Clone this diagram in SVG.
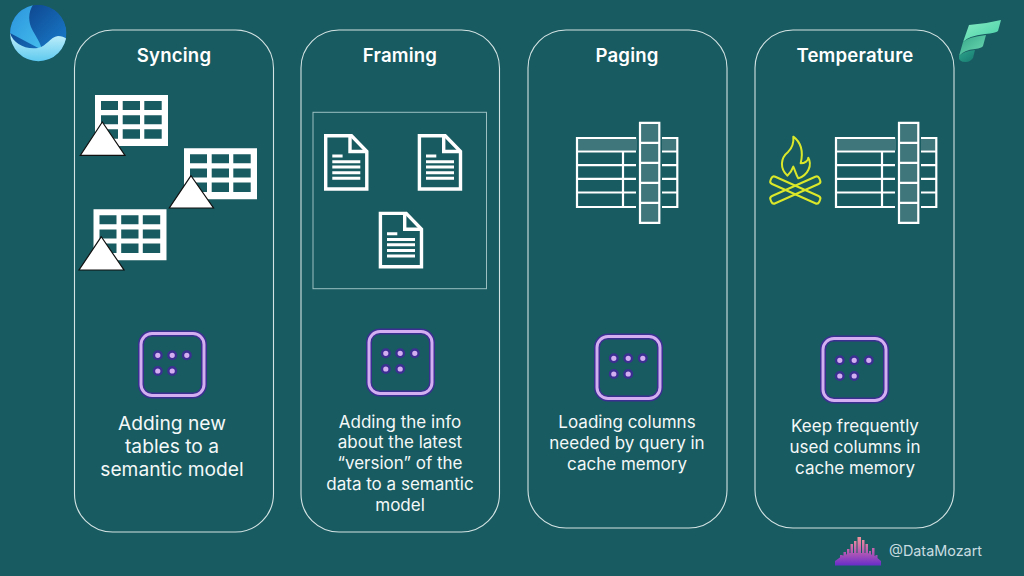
<svg xmlns="http://www.w3.org/2000/svg" width="1024" height="576" viewBox="0 0 1024 576">
<style>
.card{fill:none;stroke:#d3e3e3;stroke-width:1.1}
.title{font:600 18.600px Inter,"Liberation Sans",sans-serif;fill:#fff;text-anchor:middle;letter-spacing:.2px}
.big{font:400 19.200px Inter,"Liberation Sans",sans-serif;fill:#f4f8f8;text-anchor:middle}
.small{font:400 17px Inter,"Liberation Sans",sans-serif;fill:#f4f8f8;text-anchor:middle}
.tri{fill:#fff;stroke:#111;stroke-width:1.2}
.ln{fill:none;stroke:#fff;stroke-width:2.200}
.hd{fill:#fff;fill-opacity:.17}
.fire{fill:none;stroke:#dbe82a;stroke-width:6;stroke-linejoin:round}
</style>
<defs>
<symbol id="grid" width="73" height="51" viewBox="0 0 73 51" overflow="visible">
<path fill="#fff" fill-rule="evenodd" d="M0 0H73V51H0ZM6 6V15H23V6ZM27.700 6V15H45V6ZM49.300 6V15H66.700V6ZM6 20.300V29.300H23V20.300ZM27.700 20.300V29.300H45V20.300ZM49.300 20.300V29.300H66.700V20.300ZM6 34.300V43.700H23V34.300ZM27.700 34.300V43.700H45V34.300ZM49.300 34.300V43.700H66.700V34.300Z"/>
</symbol>
<symbol id="doc" width="45" height="57" viewBox="0 0 45 57" overflow="visible">
<path d="M1.700 1.700H27.500L42.800 17.500V55H1.700Z" fill="none" stroke="#fff" stroke-width="3.400"/>
<path d="M26 1.700V17.500H42.800" fill="none" stroke="#fff" stroke-width="3.400"/>
<path d="M8.300 22H18.600M8.300 27.700H36.300M8.300 33H36.300M8.300 38.700H36.300M8.300 44.300H36.300" stroke="#fff" stroke-width="3" fill="none"/>
</symbol>
<symbol id="dice" width="66" height="66" viewBox="0 0 66 66" overflow="visible">
<rect x="1.500" y="1.500" width="63" height="62" rx="11" fill="none" stroke="#3c2f92" stroke-width="6"/>
<rect x="1.500" y="1.500" width="63" height="62" rx="11" fill="none" stroke="#d3aef0" stroke-width="3"/>
<g fill="#d3aef0" stroke="#3c2f92" stroke-width="2.400">
<circle cx="18.300" cy="23.300" r="3.800"/><circle cx="32.700" cy="23.300" r="3.800"/><circle cx="47.300" cy="23.300" r="3.800"/>
<circle cx="18.300" cy="39" r="3.800"/><circle cx="32.700" cy="39" r="3.800"/>
</g>
</symbol>
<symbol id="cols" width="104" height="102" viewBox="0 0 104 102" overflow="visible">
<rect class="hd" x="1" y="16" width="60" height="13"/><rect class="hd" x="86" y="16" width="16" height="13"/>
<rect class="hd" x="64" y="1" width="19" height="100"/>
<path class="ln" d="M60 16.500H1V85.500H60M1 30H60M1 43.700H60M1 57.300H60M1 71H60M47 30V85.500M86 16.500H101.300V85.500H86M86 30H101.300M86 43.700H101.300M86 57.300H101.300M86 71H101.300"/>
<path class="ln" d="M64 1.300H83.300V101.300H64ZM64 21.300H83.300M64 41.300H83.300M64 61.300H83.300M64 81.300H83.300"/>
</symbol>
<linearGradient id="lg1" x1="0" y1="0" x2="1" y2="1"><stop offset="0" stop-color="#0c3a82"/><stop offset="1" stop-color="#1b86d6"/></linearGradient>
<linearGradient id="lg2" x1="0" y1="0" x2="1" y2="1"><stop offset="0" stop-color="#2a92dc"/><stop offset="1" stop-color="#45bdec"/></linearGradient>
<linearGradient id="lg3" x1="0" y1="0" x2="0" y2="1"><stop offset="0" stop-color="#c6f1fb"/><stop offset="1" stop-color="#58c7ee"/></linearGradient>
<linearGradient id="fa" x1="0" y1="0" x2="1" y2="1"><stop offset="0" stop-color="#8aecc4"/><stop offset="1" stop-color="#44cfa6"/></linearGradient>
<linearGradient id="fb" x1="0" y1="0" x2="1" y2="1"><stop offset="0" stop-color="#35a688"/><stop offset="1" stop-color="#6fdcb4"/></linearGradient>
<linearGradient id="fc" x1="0" y1="0" x2="1" y2="1"><stop offset="0" stop-color="#2ea58c"/><stop offset="1" stop-color="#17796f"/></linearGradient>
<linearGradient id="bars" gradientUnits="userSpaceOnUse" x1="0" y1="538" x2="0" y2="565"><stop offset="0" stop-color="#f0909c"/><stop offset=".45" stop-color="#c060b0"/><stop offset="1" stop-color="#6a2fc8"/></linearGradient>
<clipPath id="ball"><circle cx="38.300" cy="33" r="28.200"/></clipPath>
</defs>
<rect width="1024" height="576" fill="#185b61"/>

<g id="logo-left" clip-path="url(#ball)">
<circle cx="38.300" cy="33" r="28.200" fill="url(#lg1)"/>
<path d="M34 3C18 5 8 18 10 33L42 50C40 40 32 32 30 24C28 16 30 9 34 3Z" fill="url(#lg2)"/>
<path d="M10 33C13 43 25 50 38 48C47 46 50 37 58 36C62 36 65 37 68 40V63H10Z" fill="url(#lg3)"/>
</g>
<g id="logo-right">
<path d="M969 25Q985 24 1001 20L998 31Q996 33 985 34Q968 36 963 42Z" fill="url(#fa)"/>
<path d="M963 42Q968 37 986 35L983 46Q982 48 975 49Q964 50 959 56Z" fill="url(#fb)"/>
<path d="M959 56Q964 51 975 50L973 58Q970 62 966 62Q958 62 959 56Z" fill="url(#fc)"/>
</g>

<g id="syncing">
<rect class="card" x="74.500" y="30" width="199" height="502" rx="38"/>
<text class="title" x="174" y="62">Syncing</text>
<use href="#grid" x="95" y="95"/>
<path class="tri" d="M102.300 122L80.300 155.300H125Z"/>
<use href="#grid" x="184" y="148.300"/>
<path class="tri" d="M191 175.700L169.300 208H213.500Z"/>
<use href="#grid" x="93.500" y="209.300"/>
<path class="tri" d="M101.300 236.700L79 270H124Z"/>
<use href="#dice" x="139.500" y="332"/>
<text class="big" x="172" y="430">Adding new</text>
<text class="big" x="172" y="453">tables to a</text>
<text class="big" x="172" y="476">semantic model</text>
</g>

<g id="framing">
<rect class="card" x="301" y="30" width="198.500" height="502" rx="38"/>
<text class="title" x="400" y="62">Framing</text>
<rect x="313" y="112.300" width="173.500" height="176.400" fill="none" stroke="#9cc0c2" stroke-width="1"/>
<use href="#doc" x="324" y="134"/>
<use href="#doc" x="417.700" y="134"/>
<use href="#doc" x="378.700" y="211.700"/>
<use href="#dice" x="367.500" y="330"/>
<text class="small" x="400" y="428">Adding the info</text>
<text class="small" x="400" y="448">about the latest</text>
<text class="small" x="400" y="469">“version” of the</text>
<text class="small" x="400" y="490">data to a semantic</text>
<text class="small" x="400" y="511">model</text>
</g>

<g id="paging">
<rect class="card" x="528" y="30" width="199" height="498" rx="38"/>
<text class="title" x="627" y="62">Paging</text>
<use href="#cols" x="576" y="121.500"/>
<use href="#dice" x="595.500" y="335"/>
<text class="small" x="627" y="428">Loading columns</text>
<text class="small" x="627" y="449">needed by query in</text>
<text class="small" x="627" y="470">cache memory</text>
</g>

<g id="temperature">
<rect class="card" x="755" y="30" width="199" height="498" rx="38"/>
<text class="title" x="855" y="62">Temperature</text>
<g transform="translate(560 110) scale(.3333)">
<path class="fire" d="M700 80C720 95 732 120 722 160C735 160 745 152 745 143C757 165 745 195 715 205C708 195 705 180 700 170C695 185 690 190 682 197C660 175 660 145 685 125C695 115 702 100 700 80Z"/>
<rect class="fire" x="626" y="228" width="160" height="24" rx="9" transform="rotate(24 706 240)"/>
<rect class="fire" x="626" y="228" width="160" height="24" rx="9" transform="rotate(-24 706 240)"/>
</g>
<use href="#cols" x="835" y="121.500"/>
<use href="#dice" x="821.500" y="337"/>
<text class="small" x="855" y="432">Keep frequently</text>
<text class="small" x="855" y="453">used columns in</text>
<text class="small" x="855" y="474">cache memory</text>
</g>

<g id="credit">
<path fill="url(#bars)" d="M835 561L842 556L850 553L868 553L875 556L881 561V565.500H835ZM840 555h2.500v8h-2.500ZM843.500 552h2.500v11h-2.500ZM847 549h2.500v13h-2.500ZM850.500 544h2.500v19h-2.500ZM854 541h2.500v22h-2.500ZM857.500 537h3.500v26h-3.500ZM862 540h2.500v23h-2.500ZM865.500 544h2.500v19h-2.500ZM869 551h2v11h-2ZM872 548h2.500v14h-2.500ZM875.500 555h2v8h-2Z"/>
<text x="889" y="556" font-family="Inter,'Liberation Sans',sans-serif" font-size="14.400" fill="#c9dde0">@DataMozart</text>
</g>
</svg>
